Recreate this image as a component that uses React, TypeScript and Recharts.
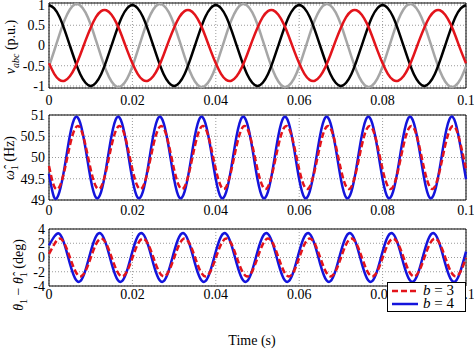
import React from "react";
import { CartesianGrid, Legend, Line, LineChart, ReferenceArea, XAxis, YAxis } from "recharts";

// sample times (s)
const time = [
  0, 0.00125, 0.0025, 0.00375, 0.005, 0.00625, 0.0075, 0.00875,
  0.01, 0.01125, 0.0125, 0.01375, 0.015, 0.01625, 0.0175, 0.01875,
  0.02, 0.02125, 0.0225, 0.02375, 0.025, 0.02625, 0.0275, 0.02875,
  0.03, 0.03125, 0.0325, 0.03375, 0.035, 0.03625, 0.0375, 0.03875,
  0.04, 0.04125, 0.0425, 0.04375, 0.045, 0.04625, 0.0475, 0.04875,
  0.05, 0.05125, 0.0525, 0.05375, 0.055, 0.05625, 0.0575, 0.05875,
  0.06, 0.06125, 0.0625, 0.06375, 0.065, 0.06625, 0.0675, 0.06875,
  0.07, 0.07125, 0.0725, 0.07375, 0.075, 0.07625, 0.0775, 0.07875,
  0.08, 0.08125, 0.0825, 0.08375, 0.085, 0.08625, 0.0875, 0.08875,
  0.09, 0.09125, 0.0925, 0.09375, 0.095, 0.09625, 0.0975, 0.09875,
  0.1,
];

// phase voltages (p.u.)
const va = [
  1, 0.92, 0.71, 0.38, 0, -0.38, -0.71, -0.92,
  -1, -0.92, -0.71, -0.38, 0, 0.38, 0.71, 0.92,
  1, 0.92, 0.71, 0.38, 0, -0.38, -0.71, -0.92,
  -1, -0.92, -0.71, -0.38, 0, 0.38, 0.71, 0.92,
  1, 0.92, 0.71, 0.38, 0, -0.38, -0.71, -0.92,
  -1, -0.92, -0.71, -0.38, 0, 0.38, 0.71, 0.92,
  1, 0.92, 0.71, 0.38, 0, -0.38, -0.71, -0.92,
  -1, -0.92, -0.71, -0.38, 0, 0.38, 0.71, 0.92,
  1, 0.92, 0.71, 0.38, 0, -0.38, -0.71, -0.92,
  -1, -0.92, -0.71, -0.38, 0, 0.38, 0.71, 0.92,
  1,
];
const vb = [
  -0.44, -0.7, -0.85, -0.87, -0.76, -0.54, -0.23, 0.12,
  0.44, 0.7, 0.85, 0.87, 0.76, 0.54, 0.23, -0.12,
  -0.44, -0.7, -0.85, -0.87, -0.76, -0.54, -0.23, 0.12,
  0.44, 0.7, 0.85, 0.87, 0.76, 0.54, 0.23, -0.12,
  -0.44, -0.7, -0.85, -0.87, -0.76, -0.54, -0.23, 0.12,
  0.44, 0.7, 0.85, 0.87, 0.76, 0.54, 0.23, -0.12,
  -0.44, -0.7, -0.85, -0.87, -0.76, -0.54, -0.23, 0.12,
  0.44, 0.7, 0.85, 0.87, 0.76, 0.54, 0.23, -0.12,
  -0.44, -0.7, -0.85, -0.87, -0.76, -0.54, -0.23, 0.12,
  0.44, 0.7, 0.85, 0.87, 0.76, 0.54, 0.23, -0.12,
  -0.44,
];
const vc = [
  -0.52, -0.13, 0.27, 0.63, 0.89, 1.02, 0.99, 0.82,
  0.52, 0.13, -0.27, -0.63, -0.89, -1.02, -0.99, -0.82,
  -0.52, -0.13, 0.27, 0.63, 0.89, 1.02, 0.99, 0.82,
  0.52, 0.13, -0.27, -0.63, -0.89, -1.02, -0.99, -0.82,
  -0.52, -0.13, 0.27, 0.63, 0.89, 1.02, 0.99, 0.82,
  0.52, 0.13, -0.27, -0.63, -0.89, -1.02, -0.99, -0.82,
  -0.52, -0.13, 0.27, 0.63, 0.89, 1.02, 0.99, 0.82,
  0.52, 0.13, -0.27, -0.63, -0.89, -1.02, -0.99, -0.82,
  -0.52, -0.13, 0.27, 0.63, 0.89, 1.02, 0.99, 0.82,
  0.52, 0.13, -0.27, -0.63, -0.89, -1.02, -0.99, -0.82,
  -0.52,
];

// estimated frequency (Hz)
const freqB3 = [
  49.8, 49.32, 49.31, 49.71, 50.28, 50.68, 50.69, 50.29,
  49.72, 49.32, 49.31, 49.71, 50.28, 50.68, 50.69, 50.29,
  49.72, 49.32, 49.31, 49.71, 50.28, 50.68, 50.69, 50.29,
  49.72, 49.32, 49.31, 49.71, 50.28, 50.68, 50.69, 50.29,
  49.72, 49.32, 49.31, 49.71, 50.28, 50.68, 50.69, 50.29,
  49.72, 49.32, 49.31, 49.71, 50.28, 50.68, 50.69, 50.29,
  49.72, 49.32, 49.31, 49.71, 50.28, 50.68, 50.69, 50.29,
  49.72, 49.32, 49.31, 49.71, 50.28, 50.68, 50.69, 50.29,
  49.72, 49.32, 49.31, 49.71, 50.28, 50.68, 50.69, 50.29,
  49.72, 49.32, 49.31, 49.71, 50.28, 50.68, 50.69, 50.29,
  49.72,
];
const freqB4 = [
  49.62, 49.06, 49.19, 49.78, 50.51, 50.94, 50.81, 50.22,
  49.49, 49.06, 49.19, 49.78, 50.51, 50.94, 50.81, 50.22,
  49.49, 49.06, 49.19, 49.78, 50.51, 50.94, 50.81, 50.22,
  49.49, 49.06, 49.19, 49.78, 50.51, 50.94, 50.81, 50.22,
  49.49, 49.06, 49.19, 49.78, 50.51, 50.94, 50.81, 50.22,
  49.49, 49.06, 49.19, 49.78, 50.51, 50.94, 50.81, 50.22,
  49.49, 49.06, 49.19, 49.78, 50.51, 50.94, 50.81, 50.22,
  49.49, 49.06, 49.19, 49.78, 50.51, 50.94, 50.81, 50.22,
  49.49, 49.06, 49.19, 49.78, 50.51, 50.94, 50.81, 50.22,
  49.49, 49.06, 49.19, 49.78, 50.51, 50.94, 50.81, 50.22,
  49.49,
];

// phase error (deg)
const errB3 = [
  0.5, 1.84, 2.65, 1.91, 0.05, -1.84, -2.65, -1.91,
  -0.05, 1.84, 2.65, 1.91, 0.05, -1.84, -2.65, -1.91,
  -0.05, 1.84, 2.65, 1.91, 0.05, -1.84, -2.65, -1.91,
  -0.05, 1.84, 2.65, 1.91, 0.05, -1.84, -2.65, -1.91,
  -0.05, 1.84, 2.65, 1.91, 0.05, -1.84, -2.65, -1.91,
  -0.05, 1.84, 2.65, 1.91, 0.05, -1.84, -2.65, -1.91,
  -0.05, 1.84, 2.65, 1.91, 0.05, -1.84, -2.65, -1.91,
  -0.05, 1.84, 2.65, 1.91, 0.05, -1.84, -2.65, -1.91,
  -0.05, 1.84, 2.65, 1.91, 0.05, -1.84, -2.65, -1.91,
  -0.05, 1.84, 2.65, 1.91, 0.05, -1.84, -2.65, -1.91,
  -0.05,
];
const errB4 = [
  1.7, 2.93, 3.32, 1.76, -0.83, -2.93, -3.32, -1.76,
  0.83, 2.93, 3.32, 1.76, -0.83, -2.93, -3.32, -1.76,
  0.83, 2.93, 3.32, 1.76, -0.83, -2.93, -3.32, -1.76,
  0.83, 2.93, 3.32, 1.76, -0.83, -2.93, -3.32, -1.76,
  0.83, 2.93, 3.32, 1.76, -0.83, -2.93, -3.32, -1.76,
  0.83, 2.93, 3.32, 1.76, -0.83, -2.93, -3.32, -1.76,
  0.83, 2.93, 3.32, 1.76, -0.83, -2.93, -3.32, -1.76,
  0.83, 2.93, 3.32, 1.76, -0.83, -2.93, -3.32, -1.76,
  0.83, 2.93, 3.32, 1.76, -0.83, -2.93, -3.32, -1.76,
  0.83, 2.93, 3.32, 1.76, -0.83, -2.93, -3.32, -1.76,
  0.83,
];

const xTicks = [0, 0.02, 0.04, 0.06, 0.08, 0.1];
const vTicks = [-1, -0.5, 0, 0.5, 1];
const fTicks = [49, 49.5, 50, 50.5, 51];
const eTicks = [-4, -2, 0, 2, 4];

const rows = time.map((t, i) => ({
  t,
  va: va[i],
  vb: vb[i],
  vc: vc[i],
  f3: freqB3[i],
  f4: freqB4[i],
  e3: errB3[i],
  e4: errB4[i],
}));

const FONT = "'Times New Roman', Times, 'Liberation Serif', 'DejaVu Serif', serif";
const tickStyle = { fontSize: 14, fill: "#000", fontFamily: FONT };
const RED = "#e3141b";
const BLUE = "#1414dc";

function BottomLegend() {
  const item = (dash: string | undefined, color: string, label: string) => (
    <div style={{ display: "flex", alignItems: "center", height: 13 }}>
      <svg width={30} height={8}>
        <line x1={2} x2={28} y1={4} y2={4} stroke={color} strokeWidth={2.5} strokeDasharray={dash} />
      </svg>
      <span style={{ marginLeft: 3 }}>
        <i>b</i> = {label}
      </span>
    </div>
  );
  return (
    <div
      style={{
        border: "1px solid #000",
        background: "#fff",
        fontFamily: FONT,
        fontSize: 15,
        lineHeight: "13px",
        padding: "1px 4px 1px 2px",
        width: 71,
      }}
    >
      {item("6 3", RED, "3")}
      {item(undefined, BLUE, "4")}
    </div>
  );
}

const yLabel = (left: number, top: number, content: React.ReactNode) => (
  <div
    style={{
      position: "absolute",
      left,
      top,
      transform: "translate(-50%, -50%) rotate(-90deg)",
      whiteSpace: "nowrap",
      fontFamily: FONT,
      fontSize: 14,
    }}
  >
    {content}
  </div>
);

export default function App() {
  const grid = <CartesianGrid stroke="#9a9a9a" strokeDasharray="1 2" />;
  const xAxis = (height: number, tickMargin: number) => (
    <XAxis
      dataKey="t"
      type="number"
      domain={[0, 0.1]}
      ticks={xTicks}
      tickFormatter={(v) => String(v)}
      tick={tickStyle}
      tickLine={false}
      axisLine={false}
      tickSize={0}
      tickMargin={tickMargin}
      height={height}
      interval={0}
    />
  );

  return (
    <div
      style={{
        position: "absolute",
        left: 0,
        top: 0,
        width: 474,
        height: 351,
        background: "#fff",
        overflow: "hidden",
        fontFamily: FONT,
      }}
    >
      <div style={{ position: "absolute", left: 0, top: 0 }}>
        <LineChart width={474} height={112} data={rows} margin={{ top: 3, right: 8, bottom: 0, left: 0 }}>
          {grid}
          {xAxis(24, 7)}
          <YAxis
            width={49}
            domain={[-1.05, 1.05]}
            ticks={vTicks}
            tick={tickStyle}
            tickLine={false}
            axisLine={false}
            tickSize={0}
            tickMargin={4}
            interval={0}
          />
          <Line dataKey="vc" type="natural" stroke="#a6a6a6" strokeWidth={2.5} dot={false} isAnimationActive={false} />
          <Line dataKey="va" type="natural" stroke="#000" strokeWidth={2.5} dot={false} isAnimationActive={false} />
          <Line dataKey="vb" type="natural" stroke={RED} strokeWidth={2.5} dot={false} isAnimationActive={false} />
          <ReferenceArea x1={0} x2={0.1} y1={-1.05} y2={1.05} fill="none" stroke="#000" strokeWidth={1} />
        </LineChart>
      </div>

      <div style={{ position: "absolute", left: 0, top: 105 }}>
        <LineChart width={474} height={122} data={rows} margin={{ top: 10, right: 8, bottom: 0, left: 0 }}>
          {grid}
          {xAxis(27, 5)}
          <YAxis
            width={49}
            domain={[49, 51]}
            ticks={fTicks}
            tick={tickStyle}
            tickLine={false}
            axisLine={false}
            tickSize={0}
            tickMargin={4}
            interval={0}
          />
          <Line dataKey="f4" type="natural" stroke={BLUE} strokeWidth={2.5} dot={false} isAnimationActive={false} />
          <Line
            dataKey="f3"
            type="natural"
            stroke={RED}
            strokeWidth={2.5}
            strokeDasharray="6 3"
            dot={false}
            isAnimationActive={false}
          />
          <ReferenceArea x1={0} x2={0.1} y1={49} y2={51} fill="none" stroke="#000" strokeWidth={1} />
        </LineChart>
      </div>

      <div style={{ position: "absolute", left: 0, top: 220 }}>
        <LineChart width={474} height={131} data={rows} margin={{ top: 9, right: 8, bottom: 0, left: 0 }}>
          {grid}
          {xAxis(35, 3)}
          <YAxis
            width={49}
            domain={[-4, 4]}
            ticks={eTicks}
            tick={tickStyle}
            tickLine={false}
            axisLine={false}
            tickSize={0}
            tickMargin={4}
            interval={0}
          />
          <Line dataKey="e4" type="natural" stroke={BLUE} strokeWidth={2.5} dot={false} isAnimationActive={false} />
          <Line
            dataKey="e3"
            type="natural"
            stroke={RED}
            strokeWidth={2.5}
            strokeDasharray="6 3"
            dot={false}
            isAnimationActive={false}
          />
          <ReferenceArea x1={0} x2={0.1} y1={-4} y2={4} fill="none" stroke="#000" strokeWidth={1} />
          <Legend
            content={() => <BottomLegend />}
            wrapperStyle={{ position: "absolute", left: 387, top: 62, width: 79, height: 30 }}
          />
        </LineChart>
      </div>

      {yLabel(12, 47, (
        <span>
          <i>v</i>
          <sub style={{ fontSize: 10 }}>
            <i>abc</i>
          </sub>{" "}
          (p.u.)
        </span>
      ))}
      {yLabel(11, 158, (
        <span>
          <i>ω̂</i>
          <sub style={{ fontSize: 10 }}>1</sub> (Hz)
        </span>
      ))}
      {yLabel(20, 275, (
        <span>
          <i>θ</i>
          <sub style={{ fontSize: 10 }}>1</sub> − <i>θ̂</i>
          <sub style={{ fontSize: 10 }}>1</sub> (deg)
        </span>
      ))}

      <div
        style={{
          position: "absolute",
          left: 252,
          top: 341,
          transform: "translate(-50%, -50%)",
          fontSize: 14,
          whiteSpace: "nowrap",
        }}
      >
        Time (s)
      </div>
    </div>
  );
}
